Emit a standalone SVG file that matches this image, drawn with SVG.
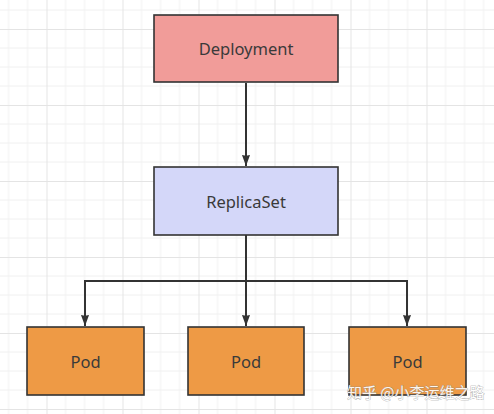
<svg xmlns="http://www.w3.org/2000/svg" width="494" height="414" viewBox="0 0 494 414">
<defs>
<pattern id="grid" x="46.5" y="29" width="76" height="76" patternUnits="userSpaceOnUse">
<path d="M19 0V76M38 0V76M57 0V76M0 19H76M0 38H76M0 57H76" stroke="#f0f0f0" stroke-width="1" fill="none"/>
<path d="M0.5 0V76M0 0.5H76" stroke="#e4e4e4" stroke-width="1" fill="none"/>
</pattern>
<marker id="arr" markerWidth="11" markerHeight="15" refX="15" refY="5.5" viewBox="0 0 15 11" orient="auto" markerUnits="userSpaceOnUse">
<path d="M0 0L15 5.5L0 11L1 5.5Z" fill="#333"/>
</marker>
<style>
.box{stroke:#333;stroke-width:1.6}
.lbl{font-family:"Noto Sans","DejaVu Sans",sans-serif;font-size:16.5px;fill:#3a3a3a;text-anchor:middle;dominant-baseline:central}
.edge{stroke:#333;stroke-width:2;fill:none}
</style>
</defs>
<rect width="494" height="414" fill="#fff"/>
<rect width="494" height="414" fill="url(#grid)"/>
<g id="connectors">
<path class="edge" d="M246 83V166" marker-end="url(#arr)"/>
<path class="edge" d="M246 235V326" marker-end="url(#arr)"/>
<path class="edge" d="M246 281H85V326" marker-end="url(#arr)"/>
<path class="edge" d="M246 281H407V326" marker-end="url(#arr)"/>
</g>
<g id="deployment">
<rect class="box" x="154" y="15" width="184" height="67" fill="#f19c99"/>
<text class="lbl" x="246" y="48.5">Deployment</text>
</g>
<g id="replicaset">
<rect class="box" x="154" y="167" width="184" height="68" fill="#d4d7f9"/>
<text class="lbl" x="246" y="201">ReplicaSet</text>
</g>
<g id="pod1">
<rect class="box" x="27" y="327" width="117" height="68" fill="#ee9a45"/>
<text class="lbl" x="85.5" y="361">Pod</text>
</g>
<g id="pod2">
<rect class="box" x="188" y="327" width="116" height="68" fill="#ee9a45"/>
<text class="lbl" x="246" y="361">Pod</text>
</g>
<g id="pod3">
<rect class="box" x="349" y="327" width="117" height="68" fill="#ee9a45"/>
<text class="lbl" x="407.5" y="361">Pod</text>
</g>
<text x="347" y="398" font-family="'Noto Sans CJK SC',sans-serif" font-size="15" fill="#fff" stroke="#888" stroke-width="0.6" paint-order="stroke" opacity="0.9">知乎 @小李运维之路</text>
</svg>
